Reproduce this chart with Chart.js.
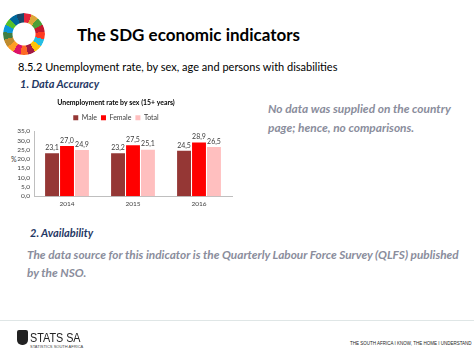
<!DOCTYPE html>
<html><head><meta charset="utf-8">
<script src="https://cdn.jsdelivr.net/npm/chart.js@4/dist/chart.umd.min.js"></script>
<style>
html,body{margin:0;padding:0;background:#fff;width:474px;height:355px;overflow:hidden;font-family:Lato,"Open Sans",sans-serif;}
.abs{position:absolute;white-space:nowrap;}
#wheel{left:3px;top:13px;width:42px;height:42px;border-radius:50%;
background:conic-gradient(#e5243b 0 21deg,#dda63a 21deg 42deg,#4c9f38 42deg 63deg,#c5192d 63deg 84deg,#ff3a21 84deg 105deg,#26bde2 105deg 126deg,#fcc30b 126deg 148deg,#a21942 148deg 169deg,#fd6925 169deg 190deg,#dd1367 190deg 211deg,#fd9d24 211deg 232deg,#bf8b2e 232deg 254deg,#3f7e44 254deg 275deg,#0a97d9 275deg 296deg,#56c02b 296deg 317deg,#00689d 317deg 338deg,#19486a 338deg 360deg);
-webkit-mask:radial-gradient(circle,transparent 11px,#000 12px);mask:radial-gradient(circle,transparent 11px,#000 12px);}
</style></head>
<body>
<div id="wheel" class="abs"></div>
<div class="abs" style="left:77px;top:24px;font-size:17px;font-weight:bold;color:#000;">The SDG economic indicators</div>
<div class="abs" style="left:18px;top:60px;font-size:11px;color:#000;">8.5.2 Unemployment rate, by sex, age and persons with disabilities</div>
<div class="abs" style="left:20px;top:77px;font-size:11px;font-weight:bold;font-style:italic;color:#1f3864;">1. Data Accuracy</div>
<div class="abs" style="left:268px;top:99px;font-size:11.9px;font-weight:bold;font-style:italic;color:#8a8d9c;line-height:19px;">No data was supplied on the country<br>page; hence, no comparisons.</div>
<div class="abs" style="left:11px;top:155px;font-size:7px;color:#404040;">%</div>
<div class="abs" style="left:30px;top:226px;font-size:11px;font-weight:bold;font-style:italic;color:#1f3864;">2. Availability</div>
<div class="abs" style="left:27px;top:246px;font-size:11.8px;font-weight:bold;font-style:italic;color:#8a8d9c;line-height:18px;">The data source for this indicator is the Quarterly Labour Force Survey (QLFS) published<br>by the NSO.</div>
<div class="abs" style="left:0;top:320px;width:474px;height:1px;background:#dfe6e6;"></div>
<div class="abs" style="left:17px;top:330px;width:11px;height:15px;background:#222;border-radius:2px 2px 5px 5px;"></div>
<div class="abs" style="left:30px;top:330px;font-size:13px;color:#222;font-family:'Liberation Sans',sans-serif;transform:scaleX(0.83);transform-origin:0 0;">STATS SA</div>
<div class="abs" style="left:30px;top:344px;font-size:4px;color:#444;font-family:'Liberation Sans',sans-serif;">STATISTICS SOUTH AFRICA</div>
<div class="abs" style="left:350px;top:341px;font-size:4.5px;color:#222;font-family:'Liberation Sans',sans-serif;">THE SOUTH AFRICA I KNOW, THE HOME I UNDERSTAND</div>
<div class="abs" style="left:0;top:94px;width:240px;height:118px;"><canvas id="c"></canvas></div>
<script>
const categories = ["2014","2015","2016"];
const male = [23.1, 23.2, 24.5];
const female = [27.0, 27.5, 28.9];
const total = [24.9, 25.1, 26.5];
const seriesNames = ["Male","Female","Total"];
const fmt = v => v.toFixed(1).replace('.', ',');
const labelPlugin = {
  id:'vals',
  afterDatasetsDraw(chart){
    const ctx = chart.ctx;
    ctx.save();
    ctx.font = '7px Lato, sans-serif';
    ctx.fillStyle = '#404040';
    ctx.textAlign = 'center';
    ctx.textBaseline = 'bottom';
    chart.data.datasets.forEach((ds,i)=>{
      chart.getDatasetMeta(i).data.forEach((el,j)=>{
        ctx.fillText(fmt(ds.data[j]), el.x, el.y - 2);
      });
    });
    ctx.restore();
  }
};
new Chart(document.getElementById('c'), {
  type:'bar',
  data:{labels:categories,datasets:[
    {label:seriesNames[0],data:male,backgroundColor:'#953735'},
    {label:seriesNames[1],data:female,backgroundColor:'#ff0000'},
    {label:seriesNames[2],data:total,backgroundColor:'#ffbfbf'}
  ]},
  options:{
    responsive:true,maintainAspectRatio:false,animation:false,
    layout:{padding:{left:0,right:8,top:2,bottom:0}},
    categoryPercentage:0.68,barPercentage:0.93,
    plugins:{
      title:{display:true,text:'Unemployment rate by sex (15+ years)',font:{size:6.9,weight:'bold',family:'Lato'},color:'#000',padding:{top:3,bottom:3}},
      legend:{labels:{boxWidth:5,boxHeight:5,font:{size:7,family:'Lato'},color:'#404040',padding:4}},
      tooltip:{enabled:false}
    },
    scales:{
      x:{grid:{display:false,drawTicks:false},border:{color:'#bfbfbf'},ticks:{font:{size:6.5,family:'Lato'},color:'#404040',padding:4}},
      y:{min:0,max:35,grid:{display:false,drawTicks:false},border:{color:'#bfbfbf'},
        afterFit:s=>{s.width=34;},
        ticks:{stepSize:5,autoSkip:false,font:{size:6.5,family:'Lato'},color:'#404040',padding:4,callback:v=>fmt(v)}}
    }
  },
  plugins:[labelPlugin]
});
</script>
</body></html>
